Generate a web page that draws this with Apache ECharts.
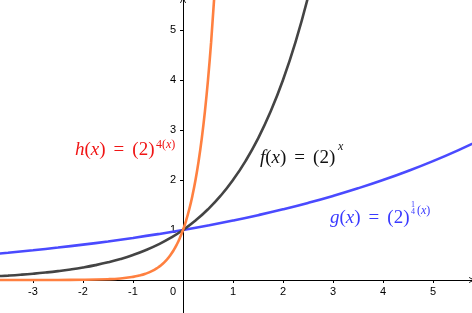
<!DOCTYPE html>
<html><head><meta charset="utf-8">
<script src="https://cdn.jsdelivr.net/npm/echarts@6/dist/echarts.min.js"></script>
<style>html,body{margin:0;padding:0;background:#fff}#c{width:472px;height:313px}</style>
</head><body><div id="c"></div>
<script>
// f(x) = 2^x
var fX = [-4,-3.75,-3.5,-3.25,-3,-2.75,-2.5,-2.25,-2,-1.75,-1.5,-1.25,-1,-0.75,-0.5,-0.25,0,0.25,0.5,0.75,1,1.25,1.5,1.75,2,2.25,2.5];
var fY = [0.0625,0.0743,0.0884,0.1051,0.125,0.1487,0.1768,0.2102,0.25,0.2973,0.3536,0.4204,0.5,0.5946,0.7071,0.8409,1,1.1892,1.4142,1.6818,2,2.3784,2.8284,3.3636,4,4.7568,5.6569];
// g(x) = 2^(x/4)
var gX = [-4,-3.5,-3,-2.5,-2,-1.5,-1,-0.5,0,0.5,1,1.5,2,2.5,3,3.5,4,4.5,5,5.5,6];
var gY = [0.5,0.5453,0.5946,0.6484,0.7071,0.7711,0.8409,0.917,1,1.0905,1.1892,1.2968,1.4142,1.5422,1.6818,1.834,2,2.181,2.3784,2.5937,2.8284];
// h(x) = 2^(4x)
var hX = [-4,-3.5,-3,-2.5,-2,-1.5,-1.25,-1,-0.875,-0.75,-0.625,-0.5,-0.4375,-0.375,-0.3125,-0.25,-0.1875,-0.125,-0.0625,0,0.0625,0.125,0.1875,0.25,0.3125,0.375,0.4375,0.5,0.5625,0.625];
var hY = [0.000015,0.000061,0.000244,0.000977,0.0039,0.0156,0.03125,0.0625,0.0884,0.125,0.1768,0.25,0.2973,0.3536,0.4204,0.5,0.5946,0.7071,0.8409,1,1.1892,1.4142,1.6818,2,2.3784,2.8284,3.3636,4,4.7568,5.6569];
// tick labels
var xTickLabels = ['-3','-2','-1','0','1','2','3','4','5'];
var yTickLabels = ['1','2','3','4','5'];

function pairs(xs, ys){ return xs.map(function(x,i){ return [x, ys[i]]; }); }

var W = 472, H = 313;
var xMin = -3.66, xMax = 5.78, yMin = -0.66, yMax = 5.6;

var chart = echarts.init(document.getElementById('c'));
var serif = '"Liberation Serif", "DejaVu Serif", serif';
var sans = '"Liberation Sans", Arial, sans-serif';
var tickFont = { color:'#000', fontSize:11, fontFamily:sans };
var arrow = 'path://M0,10 L5,0 L10,10 L8.6,10 L5,3 L1.4,10 Z';

function isInt(v){ return Math.abs(v-Math.round(v))<1e-6; }

function mathRich(color, size){
  return {
    i:{fontStyle:'italic',fontSize:size,fontFamily:serif,fill:color,verticalAlign:'middle'},
    n:{fontSize:size,fontFamily:serif,fill:color,verticalAlign:'middle'},
    e:{fontSize:size,fontFamily:serif,fill:color,padding:[0,8,0,8],verticalAlign:'middle'}
  };
}
function mainLabel(name, color, x, y){
  return {type:'text',x:x,y:y,z:10,style:{text:'{i|'+name+'}{n|(}{i|x}{n|)}{e|=}{n|(2)}',fill:color,
    font:'19px '+serif,verticalAlign:'middle',align:'left',rich:mathRich(color,19)}};
}
function supLabel(text, color, x, y, size){
  return {type:'text',x:x,y:y,z:10,style:{text:text,fill:color,font:size+'px '+serif,verticalAlign:'middle',align:'left',rich:mathRich(color,size)}};
}

var hColor = '#f01515', fColor = '#111111', gColor = '#3a3aff';

// axis offsets so that the axes cross at (0,0)
var yAxisOffset = -Math.round((0 - xMin) / (xMax - xMin) * W);
var xAxisOffset = -Math.round((0 - yMin) / (yMax - yMin) * H);

chart.setOption({
  animation:false,
  grid:{left:0,right:0,top:0,bottom:0,containLabel:false,outerBoundsMode:'none'},
  xAxis:{type:'value',min:xMin,max:xMax,splitNumber:10,position:'bottom',offset:xAxisOffset,
    axisLine:{onZero:false,lineStyle:{color:'#000',width:1},symbol:['none',arrow],symbolSize:[9,6]},
    axisTick:{show:true,length:3,lineStyle:{color:'#000'}},
    splitLine:{show:false},
    axisLabel:Object.assign({margin:6,showMinLabel:false,showMaxLabel:false,
      formatter:function(v){ if(!isInt(v)) return ''; var s=String(Math.round(v)); if(xTickLabels.indexOf(s)<0) return ''; return s==='0' ? '{z|0}' : s; },
      rich:{z:{padding:[0,20,0,0],fontSize:11,color:'#000',fontFamily:sans}}},tickFont)},
  yAxis:{type:'value',min:yMin,max:yMax,splitNumber:6,position:'left',offset:yAxisOffset,
    axisLine:{onZero:false,lineStyle:{color:'#000',width:1},symbol:['none',arrow],symbolSize:[9,6]},
    axisTick:{show:true,length:3,lineStyle:{color:'#000'}},
    splitLine:{show:false},
    axisLabel:Object.assign({margin:7,showMinLabel:false,showMaxLabel:false,
      formatter:function(v){ if(!isInt(v)) return ''; var s=String(Math.round(v)); return yTickLabels.indexOf(s)<0 ? '' : s; }},tickFont)},
  series:[
    {type:'line',data:pairs(gX,gY),smooth:true,showSymbol:false,clip:true,lineStyle:{color:'#4a4aff',width:2.6},z:2},
    {type:'line',data:pairs(fX,fY),smooth:true,showSymbol:false,clip:true,lineStyle:{color:'#444444',width:2.6},z:3},
    {type:'line',data:pairs(hX,hY),smooth:true,showSymbol:false,clip:true,lineStyle:{color:'#ff8040',width:2.6},z:4}
  ],
  graphic:[
    mainLabel('h', hColor, 75, 150),
    supLabel('{n|4(}{i|x}{n|)}', hColor, 156, 145, 12),
    mainLabel('f', fColor, 260, 158),
    supLabel('{i|x}', fColor, 338, 147, 12),
    mainLabel('g', gColor, 330, 218),
    supLabel('1', gColor, 411, 205, 8),
    supLabel('4', gColor, 411, 212, 8),
    supLabel('{n|(}{i|x}{n|)}', gColor, 417, 211, 12)
  ]
});
</script></body></html>
